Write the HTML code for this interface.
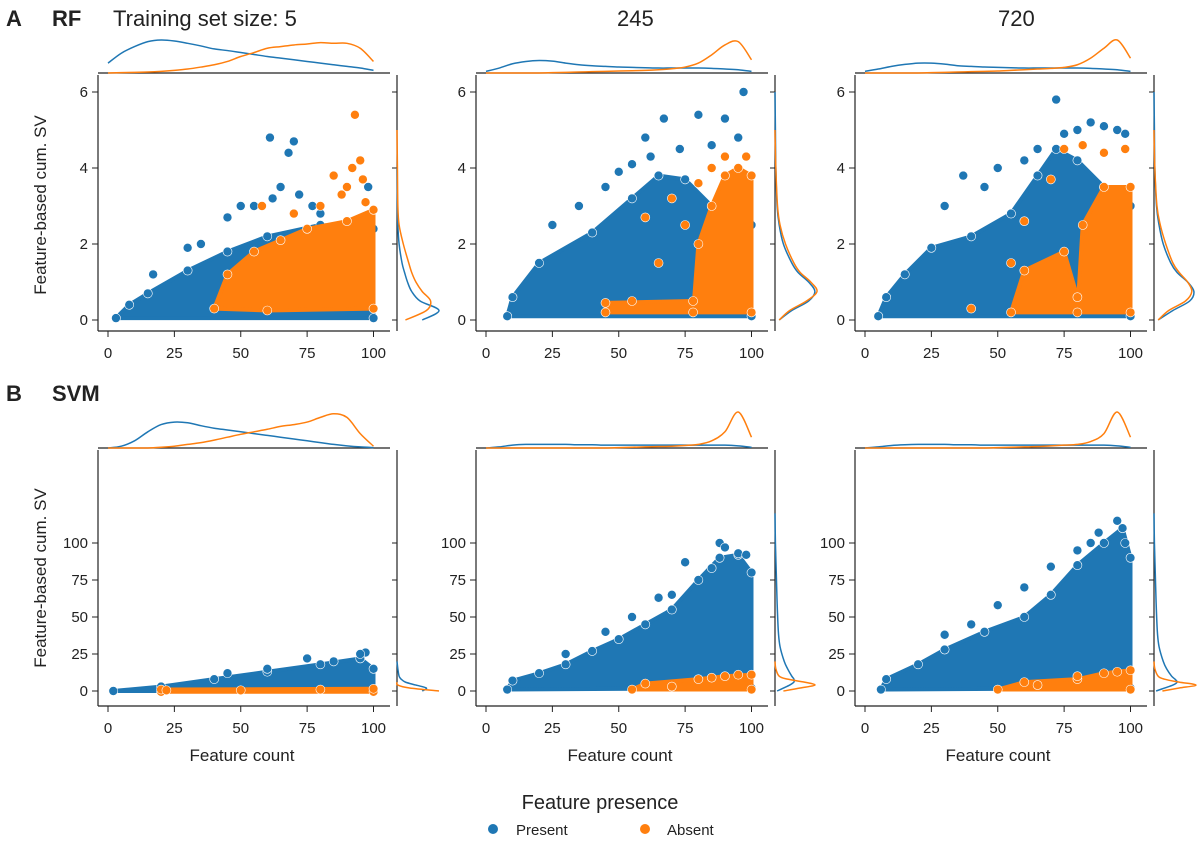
<!DOCTYPE html>
<html><head><meta charset="utf-8">
<style>
body{margin:0;background:#fff;}
svg text{font-family:"Liberation Sans",Arial,sans-serif;fill:#222;}
</style></head>
<body>
<svg id="chart" width="1200" height="840" viewBox="0 0 1200 840" xmlns="http://www.w3.org/2000/svg">
<defs>
<clipPath id="cA"><rect x="0" y="73" width="1200" height="258"/></clipPath>
<clipPath id="cB"><rect x="0" y="448" width="1200" height="252"/></clipPath>
</defs>
<text x="6" y="26" font-size="22" font-weight="bold">A</text>
<text x="52" y="26" font-size="22" font-weight="bold">RF</text>
<text x="113" y="26" font-size="22">Training set size: 5</text>
<text x="617" y="26" font-size="22">245</text>
<text x="998" y="26" font-size="22">720</text>
<text x="6" y="401" font-size="22" font-weight="bold">B</text>
<text x="52" y="401" font-size="22" font-weight="bold">SVM</text>
<text transform="translate(46,205) rotate(-90)" text-anchor="middle" font-size="17">Feature-based cum. SV</text>
<text transform="translate(46,578) rotate(-90)" text-anchor="middle" font-size="17">Feature-based cum. SV</text>
<text x="242" y="761" text-anchor="middle" font-size="17">Feature count</text>
<text x="620" y="761" text-anchor="middle" font-size="17">Feature count</text>
<text x="998" y="761" text-anchor="middle" font-size="17">Feature count</text>
<g>
<text x="600" y="809" text-anchor="middle" font-size="20">Feature presence</text>
<circle cx="493" cy="829" r="5" fill="#1f77b4"/>
<text x="516" y="835" font-size="15">Present</text>
<circle cx="645" cy="829" r="5" fill="#ff7f0e"/>
<text x="667" y="835" font-size="15">Absent</text>
</g>
</svg>
<script>
const BLUE='#1f77b4', ORANGE='#ff7f0e';
const xTicks=[0,25,50,75,100];
const yTicksA=[0,2,4,6];
const yTicksB=[0,25,50,75,100];
const kdeXGrid=[0,5,10,15,20,25,30,35,40,45,50,55,60,65,70,75,80,85,90,95,100];
const kdeYGridA=[0,0.25,0.5,0.75,1,1.25,1.5,2,2.5,3,4,5,6];
const kdeYGridB=[0,2,4,6,8,10,15,20,30,40,60,80,100,120];
// Panel A1 (RF, 5)
const a1BlueCloud=[[3,0.05],[8,0.4],[15,0.7],[30,1.3],[45,1.8],[60,2.2],[80,2.5],[100,2.4],[100,0.05]];
const a1OrangeCloud=[[40,0.3],[45,1.2],[55,1.8],[65,2.1],[75,2.4],[90,2.6],[100,2.9],[100,0.3],[60,0.25]];
const a1BlueDots=[[61,4.8],[70,4.7],[68,4.4],[65,3.5],[72,3.3],[80,2.8],[55,3.0],[45,2.7],[35,2.0],[30,1.9],[17,1.2],[50,3.0],[77,3.0],[98,3.5],[62,3.2]];
const a1OrangeDots=[[93,5.4],[95,4.2],[92,4.0],[85,3.8],[96,3.7],[88,3.3],[80,3.0],[70,2.8],[58,3.0],[97,3.1],[90,3.5]];
const a1TopBlue=[0.3,0.6,0.8,0.95,1.0,0.97,0.9,0.82,0.73,0.68,0.62,0.56,0.5,0.45,0.4,0.35,0.3,0.25,0.2,0.15,0.08];
const a1TopOrange=[0,0.01,0.02,0.03,0.05,0.08,0.12,0.18,0.25,0.35,0.5,0.62,0.75,0.8,0.85,0.88,0.92,0.9,0.9,0.75,0.35];
const a1RightBlue=[0.6,1.0,0.55,0.35,0.25,0.18,0.12,0.05,0.02,0.01,0,0,0];
const a1RightOrange=[0.2,0.7,0.8,0.6,0.45,0.35,0.28,0.15,0.05,0.02,0.01,0,0];
// Panel A2 (RF, 245)
const a2BlueCloud=[[8,0.1],[10,0.6],[20,1.5],[40,2.3],[55,3.2],[65,3.8],[75,3.7],[85,3.0],[100,2.5],[100,0.1]];
const a2OrangeCloud=[[78,0.2],[80,2.0],[85,3.0],[90,3.8],[95,4.0],[100,3.8],[100,0.2],[45,0.2],[45,0.45],[78,0.5]];
const a2BlueDots=[[97,6.0],[80,5.4],[90,5.3],[67,5.3],[60,4.8],[73,4.5],[55,4.1],[85,4.6],[95,4.8],[45,3.5],[35,3.0],[25,2.5],[50,3.9],[62,4.3]];
const a2OrangeDots=[[90,4.3],[85,4.0],[70,3.2],[60,2.7],[75,2.5],[65,1.5],[55,0.5],[98,4.3],[80,3.6]];
const a2TopBlue=[0.05,0.15,0.28,0.35,0.38,0.36,0.3,0.25,0.22,0.2,0.18,0.17,0.16,0.15,0.15,0.15,0.15,0.14,0.12,0.1,0.05];
const a2TopOrange=[0,0,0,0,0,0.01,0.02,0.03,0.04,0.05,0.06,0.07,0.08,0.1,0.13,0.18,0.3,0.55,0.85,0.95,0.4];
const a2RightBlue=[0.1,0.4,0.8,0.95,0.8,0.55,0.4,0.2,0.1,0.05,0.02,0.01,0];
const a2RightOrange=[0.1,0.35,0.75,1.0,0.85,0.6,0.45,0.25,0.12,0.06,0.02,0,0];
// Panel A3 (RF, 720)
const a3BlueCloud=[[5,0.1],[8,0.6],[15,1.2],[25,1.9],[40,2.2],[55,2.8],[65,3.8],[72,4.5],[80,4.2],[90,3.5],[100,3.0],[100,0.1]];
const a3OrangeCloud=[[80,0.2],[82,2.5],[90,3.5],[100,3.5],[100,0.2],[55,0.2],[60,1.3],[75,1.8],[80,0.6]];
const a3BlueDots=[[72,5.8],[85,5.2],[90,5.1],[95,5.0],[80,5.0],[75,4.9],[65,4.5],[50,4.0],[37,3.8],[30,3.0],[45,3.5],[60,4.2],[98,4.9]];
const a3OrangeDots=[[75,4.5],[82,4.6],[90,4.4],[60,2.6],[55,1.5],[40,0.3],[70,3.7],[98,4.5]];
const a3TopBlue=[0.05,0.12,0.2,0.26,0.3,0.3,0.27,0.22,0.2,0.18,0.17,0.16,0.15,0.15,0.15,0.15,0.15,0.14,0.12,0.1,0.05];
const a3TopOrange=[0,0,0,0,0,0.01,0.02,0.03,0.04,0.05,0.06,0.08,0.1,0.12,0.14,0.17,0.25,0.45,0.75,1.0,0.45];
const a3RightBlue=[0.1,0.45,0.85,0.95,0.8,0.55,0.4,0.22,0.12,0.06,0.02,0.01,0];
const a3RightOrange=[0.1,0.35,0.75,0.9,0.8,0.6,0.45,0.28,0.15,0.07,0.02,0,0];
// Panel B1 (SVM, 5)
const b1BlueCloud=[[2,0],[20,3],[40,8],[60,13],[80,18],[95,22],[100,15],[100,0]];
const b1OrangeCloud=[[20,-0.5],[100,-0.5],[100,1.5],[20,1]];
const b1BlueDots=[[97,26],[95,25],[75,22],[60,15],[85,20],[45,12]];
const b1OrangeDots=[[22,0.5],[50,0.5],[80,1]];
const b1TopBlue=[0,0.05,0.2,0.45,0.65,0.72,0.7,0.62,0.55,0.5,0.45,0.4,0.35,0.3,0.25,0.2,0.15,0.1,0.06,0.03,0.01];
const b1TopOrange=[0,0,0,0,0.02,0.05,0.1,0.15,0.22,0.3,0.38,0.45,0.52,0.6,0.65,0.72,0.85,0.95,0.85,0.4,0.05];
const b1RightBlue=[0.6,0.7,0.45,0.2,0.1,0.05,0.02,0,0,0,0,0,0,0];
const b1RightOrange=[1.0,0.3,0.02,0,0,0,0,0,0,0,0,0,0,0];
// Panel B2 (SVM, 245)
const b2BlueCloud=[[8,1],[10,7],[20,12],[30,18],[40,27],[50,35],[60,45],[70,55],[80,75],[88,90],[95,92],[100,80],[100,2]];
const b2OrangeCloud=[[55,1],[60,5],[80,8],[90,10],[100,11],[100,1]];
const b2BlueDots=[[88,100],[90,97],[95,93],[75,87],[85,83],[70,65],[65,63],[55,50],[45,40],[30,25],[98,92]];
const b2OrangeDots=[[70,3],[85,9],[95,11]];
const b2TopBlue=[0,0.03,0.08,0.1,0.1,0.1,0.1,0.09,0.09,0.08,0.08,0.08,0.08,0.08,0.08,0.08,0.08,0.08,0.08,0.06,0.02];
const b2TopOrange=[0,0,0,0,0,0,0,0,0,0,0.01,0.02,0.03,0.04,0.05,0.07,0.1,0.2,0.45,1.0,0.3];
const b2RightBlue=[0.05,0.2,0.35,0.45,0.45,0.4,0.3,0.22,0.12,0.08,0.05,0.03,0.01,0];
const b2RightOrange=[0.2,0.6,0.95,0.7,0.3,0.1,0.02,0,0,0,0,0,0,0];
// Panel B3 (SVM, 720)
const b3BlueCloud=[[6,1],[8,8],[20,18],[30,28],[45,40],[60,50],[70,65],[80,85],[90,100],[97,110],[100,90],[100,2]];
const b3OrangeCloud=[[50,1],[60,6],[80,8],[90,12],[100,14],[100,1]];
const b3BlueDots=[[95,115],[97,110],[88,107],[85,100],[80,95],[70,84],[60,70],[50,58],[40,45],[30,38],[98,100]];
const b3OrangeDots=[[65,4],[80,10],[95,13]];
const b3TopBlue=[0,0.03,0.07,0.09,0.1,0.1,0.1,0.09,0.09,0.08,0.08,0.08,0.08,0.08,0.08,0.08,0.08,0.08,0.08,0.06,0.02];
const b3TopOrange=[0,0,0,0,0,0,0,0,0,0,0.01,0.02,0.03,0.04,0.06,0.08,0.1,0.18,0.4,1.0,0.3];
const b3RightBlue=[0.05,0.25,0.45,0.55,0.5,0.42,0.3,0.22,0.12,0.08,0.05,0.03,0.01,0];
const b3RightOrange=[0.2,0.6,1.0,0.6,0.25,0.1,0.02,0,0,0,0,0,0,0];

const svg=document.getElementById('chart');
const NS='http://www.w3.org/2000/svg';
function mk(tag,attrs,parent){const e=document.createElementNS(NS,tag);for(const k in attrs)e.setAttribute(k,attrs[k]);(parent||svg).appendChild(e);return e;}
function smooth(pts){
 if(pts.length<2)return '';
 let d='M'+pts[0][0]+','+pts[0][1];
 for(let i=0;i<pts.length-1;i++){
  const p0=pts[Math.max(0,i-1)],p1=pts[i],p2=pts[i+1],p3=pts[Math.min(pts.length-1,i+2)];
  const c1=[p1[0]+(p2[0]-p0[0])/6,p1[1]+(p2[1]-p0[1])/6];
  const c2=[p2[0]-(p3[0]-p1[0])/6,p2[1]-(p3[1]-p1[1])/6];
  d+=' C'+c1[0]+','+c1[1]+' '+c2[0]+','+c2[1]+' '+p2[0]+','+p2[1];
 }
 return d;
}
function trimTail(grid,d){let n=d.length;while(n>2&&d[n-1]===0&&d[n-2]===0)n--;return grid.slice(0,n).map((v,i)=>[v,d[i]]);}

const cols=[108,486,865];
const rows=[
 {y0:320,ys:38,top:75,bot:331,yTicks:yTicksA,grid:kdeYGridA,clip:'url(#cA)',tb:73},
 {y0:691,ys:1.48,top:450,bot:706,yTicks:yTicksB,grid:kdeYGridB,clip:'url(#cB)',tb:448}
];
const panels=[
 [0,0,'rf-5',a1BlueCloud,a1OrangeCloud,a1BlueDots,a1OrangeDots,a1TopBlue,a1TopOrange,a1RightBlue,a1RightOrange],
 [0,1,'rf-245',a2BlueCloud,a2OrangeCloud,a2BlueDots,a2OrangeDots,a2TopBlue,a2TopOrange,a2RightBlue,a2RightOrange],
 [0,2,'rf-720',a3BlueCloud,a3OrangeCloud,a3BlueDots,a3OrangeDots,a3TopBlue,a3TopOrange,a3RightBlue,a3RightOrange],
 [1,0,'svm-5',b1BlueCloud,b1OrangeCloud,b1BlueDots,b1OrangeDots,b1TopBlue,b1TopOrange,b1RightBlue,b1RightOrange],
 [1,1,'svm-245',b2BlueCloud,b2OrangeCloud,b2BlueDots,b2OrangeDots,b2TopBlue,b2TopOrange,b2RightBlue,b2RightOrange],
 [1,2,'svm-720',b3BlueCloud,b3OrangeCloud,b3BlueDots,b3OrangeDots,b3TopBlue,b3TopOrange,b3RightBlue,b3RightOrange]
];
const XS=2.655;
panels.forEach(p=>{
 const [ri,ci,nm,bc,oc,bd,od,tb,to,rb,ro]=p;
 const R=rows[ri], x0=cols[ci];
 const sx=v=>x0+v*XS, sy=v=>R.y0-v*R.ys;
 const g=mk('g',{});
 
 
 const L=x0-10, Rr=x0+282;
 mk('line',{x1:L,y1:R.top,x2:L,y2:R.bot,stroke:'#222','stroke-width':1.2},g);
 mk('line',{x1:L,y1:R.bot,x2:Rr,y2:R.bot,stroke:'#222','stroke-width':1.2},g);
 xTicks.forEach(t=>{
  mk('line',{x1:sx(t),y1:R.bot,x2:sx(t),y2:R.bot+6,stroke:'#222'},g);
  const tx=mk('text',{x:sx(t),y:R.bot+27,'text-anchor':'middle','font-size':15},g);
  tx.textContent=t;
  
  
 });
 R.yTicks.forEach(t=>{
  mk('line',{x1:L-6,y1:sy(t),x2:L,y2:sy(t),stroke:'#222'},g);
  const tx=mk('text',{x:L-10,y:sy(t)+5,'text-anchor':'end','font-size':15},g);
  tx.textContent=t;
  
  
 });
 const cg=mk('g',{'clip-path':R.clip},g);
 const poly=(pts,col,name)=>{
  const e=mk('polygon',{points:pts.map(q=>sx(q[0])+','+sy(q[1])).join(' '),fill:col,stroke:col,'stroke-width':4,'stroke-linejoin':'round'},cg);
  
  
  pts.forEach(q=>{const c=mk('circle',{cx:sx(q[0]),cy:sy(q[1]),r:4.5,fill:col,stroke:'#fff','stroke-width':0.6},cg);
   
   });
 };
 const dots=(pts,col,name)=>pts.forEach(q=>{const c=mk('circle',{cx:sx(q[0]),cy:sy(q[1]),r:4.5,fill:col,stroke:'#fff','stroke-width':0.6},cg);
   
   });
 poly(bc,BLUE,'present-cloud');
 poly(oc,ORANGE,'absent-cloud');
 dots(bd,BLUE,'present-point');
 dots(od,ORANGE,'absent-point');
 mk('line',{x1:L,y1:R.tb,x2:Rr,y2:R.tb,stroke:'#222','stroke-width':1.2},g);
 const th=ri===0?33:36;
 [[tb,BLUE,'top-kde-present'],[to,ORANGE,'top-kde-absent']].forEach(([d,col,name])=>{
  const pts=kdeXGrid.map((v,i)=>[sx(v),R.tb-d[i]*th]);
  const e=mk('path',{d:smooth(pts),fill:'none',stroke:col,'stroke-width':1.5},g);
  
  
 });
 const bx=x0+289;
 mk('line',{x1:bx,y1:R.top,x2:bx,y2:R.bot,stroke:'#222','stroke-width':1.2},g);
 R.yTicks.forEach(t=>mk('line',{x1:bx-5,y1:sy(t),x2:bx,y2:sy(t),stroke:'#222'},g));
 [[rb,BLUE,'right-kde-present'],[ro,ORANGE,'right-kde-absent']].forEach(([d,col,name])=>{
  const pts=trimTail(R.grid,d).map(q=>[bx+q[1]*42,sy(q[0])]);
  const e=mk('path',{d:smooth(pts),fill:'none',stroke:col,'stroke-width':1.5},g);
  
  
 });
});
</script>
</body></html>
